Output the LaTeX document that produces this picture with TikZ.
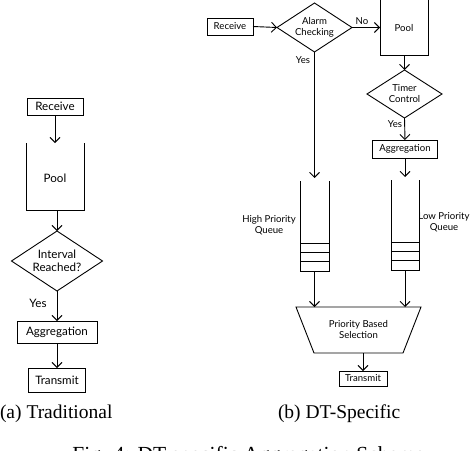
\documentclass[tikz,border=0pt]{standalone}
\usepackage{fontspec}
\setmainfont{Liberation Serif}
\newfontfamily\diagfont{Lato}
\usetikzlibrary{arrows.meta,shapes.geometric}
\begin{document}
\begin{tikzpicture}[x=1pt,y=-1pt,
  every node/.style={inner sep=0pt,outer sep=0pt},
  lbl/.style={font=\diagfont\fontsize{11.6}{12.8}\selectfont,align=center},
  lbs/.style={font=\diagfont\fontsize{9.6}{11}\selectfont,align=center},
  boxa/.style={draw,line width=0.9pt,lbl},
  boxb/.style={draw,line width=0.9pt,lbs},
  dia/.style={draw,line width=0.9pt,shape=diamond,aspect=1},
  cont/.style={line width=0.9pt},
  flow/.style={line width=0.9pt,-{Straight Barb[length=5pt,width=10pt,line width=0.9pt]}},
  captext/.style={font=\fontsize{19.5}{22}\selectfont}
]
\useasboundingbox (0,0) rectangle (474,450);
\clip (0,0) rectangle (474,450);
% ---------------- (a) Traditional ----------------
\node[boxa,minimum width=56pt,minimum height=17pt] (recA) at (55,106.5) {Receive};
\node[minimum width=58pt,minimum height=67pt] (poolA) at (55,176.5) {};
\draw[cont] (poolA.north west) -- (poolA.south west) -- (poolA.south east) -- (poolA.north east);
\node[lbl] (poolAt) at (55,178) {Pool};
\node[dia,minimum width=91pt,minimum height=60pt] (intA) at (57,261) {};
\node[lbl] (intAt) at (57,261) {Interval\\Reached?};
\node[lbl] (yesA) at (38,303) {Yes};
\node[boxa,minimum width=80pt,minimum height=22pt] (aggA) at (57,332) {Aggregation};
\node[boxa,minimum width=57pt,minimum height=24pt] (trA) at (57,380) {Transmit};
\draw[flow] (recA.south) -- (recA.south |- poolA.north);
\draw[flow] (poolA.south -| intA.north) -- (intA.north);
\draw[flow] (intA.south) -- (aggA.north);
\draw[flow] (aggA.south) -- (trA.north);
% ---------------- (b) DT-Specific ----------------
\node[boxb,minimum width=46pt,minimum height=17pt] (recB) at (230,26.5) {Receive};
\node[dia,minimum width=75pt,minimum height=49pt] (alarm) at (314.5,27.5) {};
\node[lbs] (alarmt) at (314.5,27.5) {Alarm\\Checking};
\node[minimum width=48pt,minimum height=58pt] (poolB) at (404,26) {};
\draw[cont] (poolB.north west) -- (poolB.south west) -- (poolB.south east) -- (poolB.north east);
\node[lbs] (poolBt) at (404,28) {Pool};
\node[lbs] (no) at (362,21) {No};
\node[dia,minimum width=75pt,minimum height=48pt] (timer) at (404.5,94) {};
\node[lbs] (timert) at (404.5,94) {Timer\\Control};
\node[lbs] (yesT) at (395,124) {Yes};
\node[boxb,minimum width=65pt,minimum height=18pt] (aggB) at (405,149) {Aggregation};
\node[lbs] (yesAl) at (303,60) {Yes};
% queues
\node[minimum width=29pt,minimum height=90pt] (hq) at (314.5,226) {};
\draw[cont] (hq.north west) -- (hq.south west) -- (hq.south east) -- (hq.north east);
\foreach \yy in {243,252,261} \draw[cont] (hq.west |- 0,\yy) -- (hq.east |- 0,\yy);
\node[minimum width=28pt,minimum height=90pt] (lq) at (405,225) {};
\draw[cont] (lq.north west) -- (lq.south west) -- (lq.south east) -- (lq.north east);
\foreach \yy in {242,251,260} \draw[cont] (lq.west |- 0,\yy) -- (lq.east |- 0,\yy);
\node[lbs] (hqt) at (269,225) {High Priority\\Queue};
\node[lbs] (lqt) at (444,222) {Low Priority\\Queue};
% selection trapezoid
\coordinate (s1) at (296,307);
\coordinate (s2) at (421,307);
\coordinate (s3) at (403,353);
\coordinate (s4) at (314,353);
\draw[line width=0.9pt] (s1) -- (s2) -- (s3) -- (s4) -- cycle;
\node[lbs] (sel) at (358.5,329) {Priority Based\\Selection};
\coordinate (selhq) at (hq.south |- s1);
\coordinate (sellq) at (lq.south |- s1);
\coordinate (selb) at (363,353);
\node[boxb,minimum width=48pt,minimum height=15pt] (trB) at (363,378.5) {Transmit};
% connectors
\draw[flow] (recB.east) -- (alarm.west);
\draw[flow] (alarm.east) -- (poolB.west |- alarm.east);
\draw[flow] (poolB.south -| timer.north) -- (timer.north);
\draw[flow] (timer.south) -- (aggB.north);
\draw[flow,shorten >=3pt] (alarm.south) -- (hq.north);
\draw[flow,shorten >=3pt] (aggB.south) -- (lq.north);
\draw[flow] (hq.south) -- (selhq);
\draw[flow] (lq.south) -- (sellq);
\draw[flow] (selb) -- (trB.north);
% captions
\node[captext,anchor=base west] (capa) at (0,418) {(a) Traditional};
\node[captext,anchor=base west] (capb) at (278,418) {(b) DT-Specific};
\node[font=\fontsize{21.5}{24}\selectfont,anchor=base] (fig) at (248.5,461) {Fig. 4: DT-specific Aggregation Scheme};
\end{tikzpicture}
\end{document}
